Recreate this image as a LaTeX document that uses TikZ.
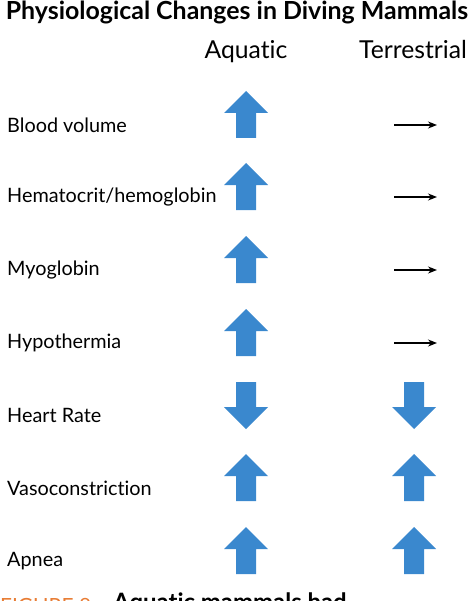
\documentclass[tikz,border=0pt]{standalone}
\usepackage{fontspec}
\setmainfont{Lato}[Ligatures={NoCommon}]
\usetikzlibrary{arrows.meta}
\definecolor{arrblue}{RGB}{58,136,206}
\definecolor{capor}{RGB}{232,124,52}
\tikzset{
  rowlabel/.style={anchor=west, inner sep=0pt, font=\fontsize{19.9}{21}\selectfont},
  colhead/.style={anchor=base, inner sep=0pt, font=\fontsize{24.8}{26}\selectfont},
  flatarrow/.style={draw=black, line width=1.3bp, -{Stealth[length=9bp,width=7bp]}},
  pics/uparr/.style={code={\fill[arrblue] (0,0) -- (22,22) -- (10,22) -- (10,47) -- (-10,47) -- (-10,22) -- (-22,22) -- cycle;}},
  pics/downarr/.style={code={\fill[arrblue] (0,47) -- (22,25) -- (10,25) -- (10,0) -- (-10,0) -- (-10,25) -- (-22,25) -- cycle;}}
}
\begin{document}
\begin{tikzpicture}[x=1bp,y=-1bp]
\useasboundingbox (0,0) rectangle (474,601);
\clip (0,0) rectangle (474,601);
\node[anchor=base, inner sep=0pt, font=\fontsize{25}{27}\selectfont\bfseries] (title) at (237,20) {Physiological Changes in Diving Mammals};
\node[colhead] (aq) at (246,59) {Aquatic};
\node[colhead] (te) at (413,59) {Terrestrial};
\node[rowlabel] (r1) at (7,125) {Blood volume};
\node[rowlabel] (r2) at (7,197) {Hematocrit/hemoglobin};
\node[rowlabel] (r3) at (7,270) {Myoglobin};
\node[rowlabel] (r4) at (7,343) {Hypothermia};
\node[rowlabel] (r5) at (7,415) {Heart Rate};
\node[rowlabel] (r6) at (7,488) {Vasoconstriction};
\node[rowlabel] (r7) at (7,561) {Apnea};
% aquatic arrows
\pic at (246,91) {uparr};
\pic at (246,163) {uparr};
\pic at (246,236) {uparr};
\pic at (246,309) {uparr};
\pic at (246,382) {downarr};
\pic at (246,454) {uparr};
\pic at (246,527) {uparr};
% terrestrial
\coordinate (s1) at (394,125); \coordinate (e1) at (437,125);
\coordinate (s2) at (394,197); \coordinate (e2) at (437,197);
\coordinate (s3) at (394,270); \coordinate (e3) at (437,270);
\coordinate (s4) at (394,343); \coordinate (e4) at (437,343);
\draw[flatarrow] (s1) -- (e1);
\draw[flatarrow] (s2) -- (e2);
\draw[flatarrow] (s3) -- (e3);
\draw[flatarrow] (s4) -- (e4);
\pic at (414,382) {downarr};
\pic at (414,454) {uparr};
\pic at (414,527) {uparr};
% caption (cut off at the lower edge, as in the reference)
\node[anchor=base west, inner sep=0pt, font=\fontsize{21}{23}\selectfont, text=capor] (fig) at (0,613) {FIGURE 8.};
\node[anchor=base west, inner sep=0pt, font=\fontsize{24}{26}\selectfont\bfseries] (cap) at (113,610) {Aquatic mammals had};
\end{tikzpicture}
\end{document}
